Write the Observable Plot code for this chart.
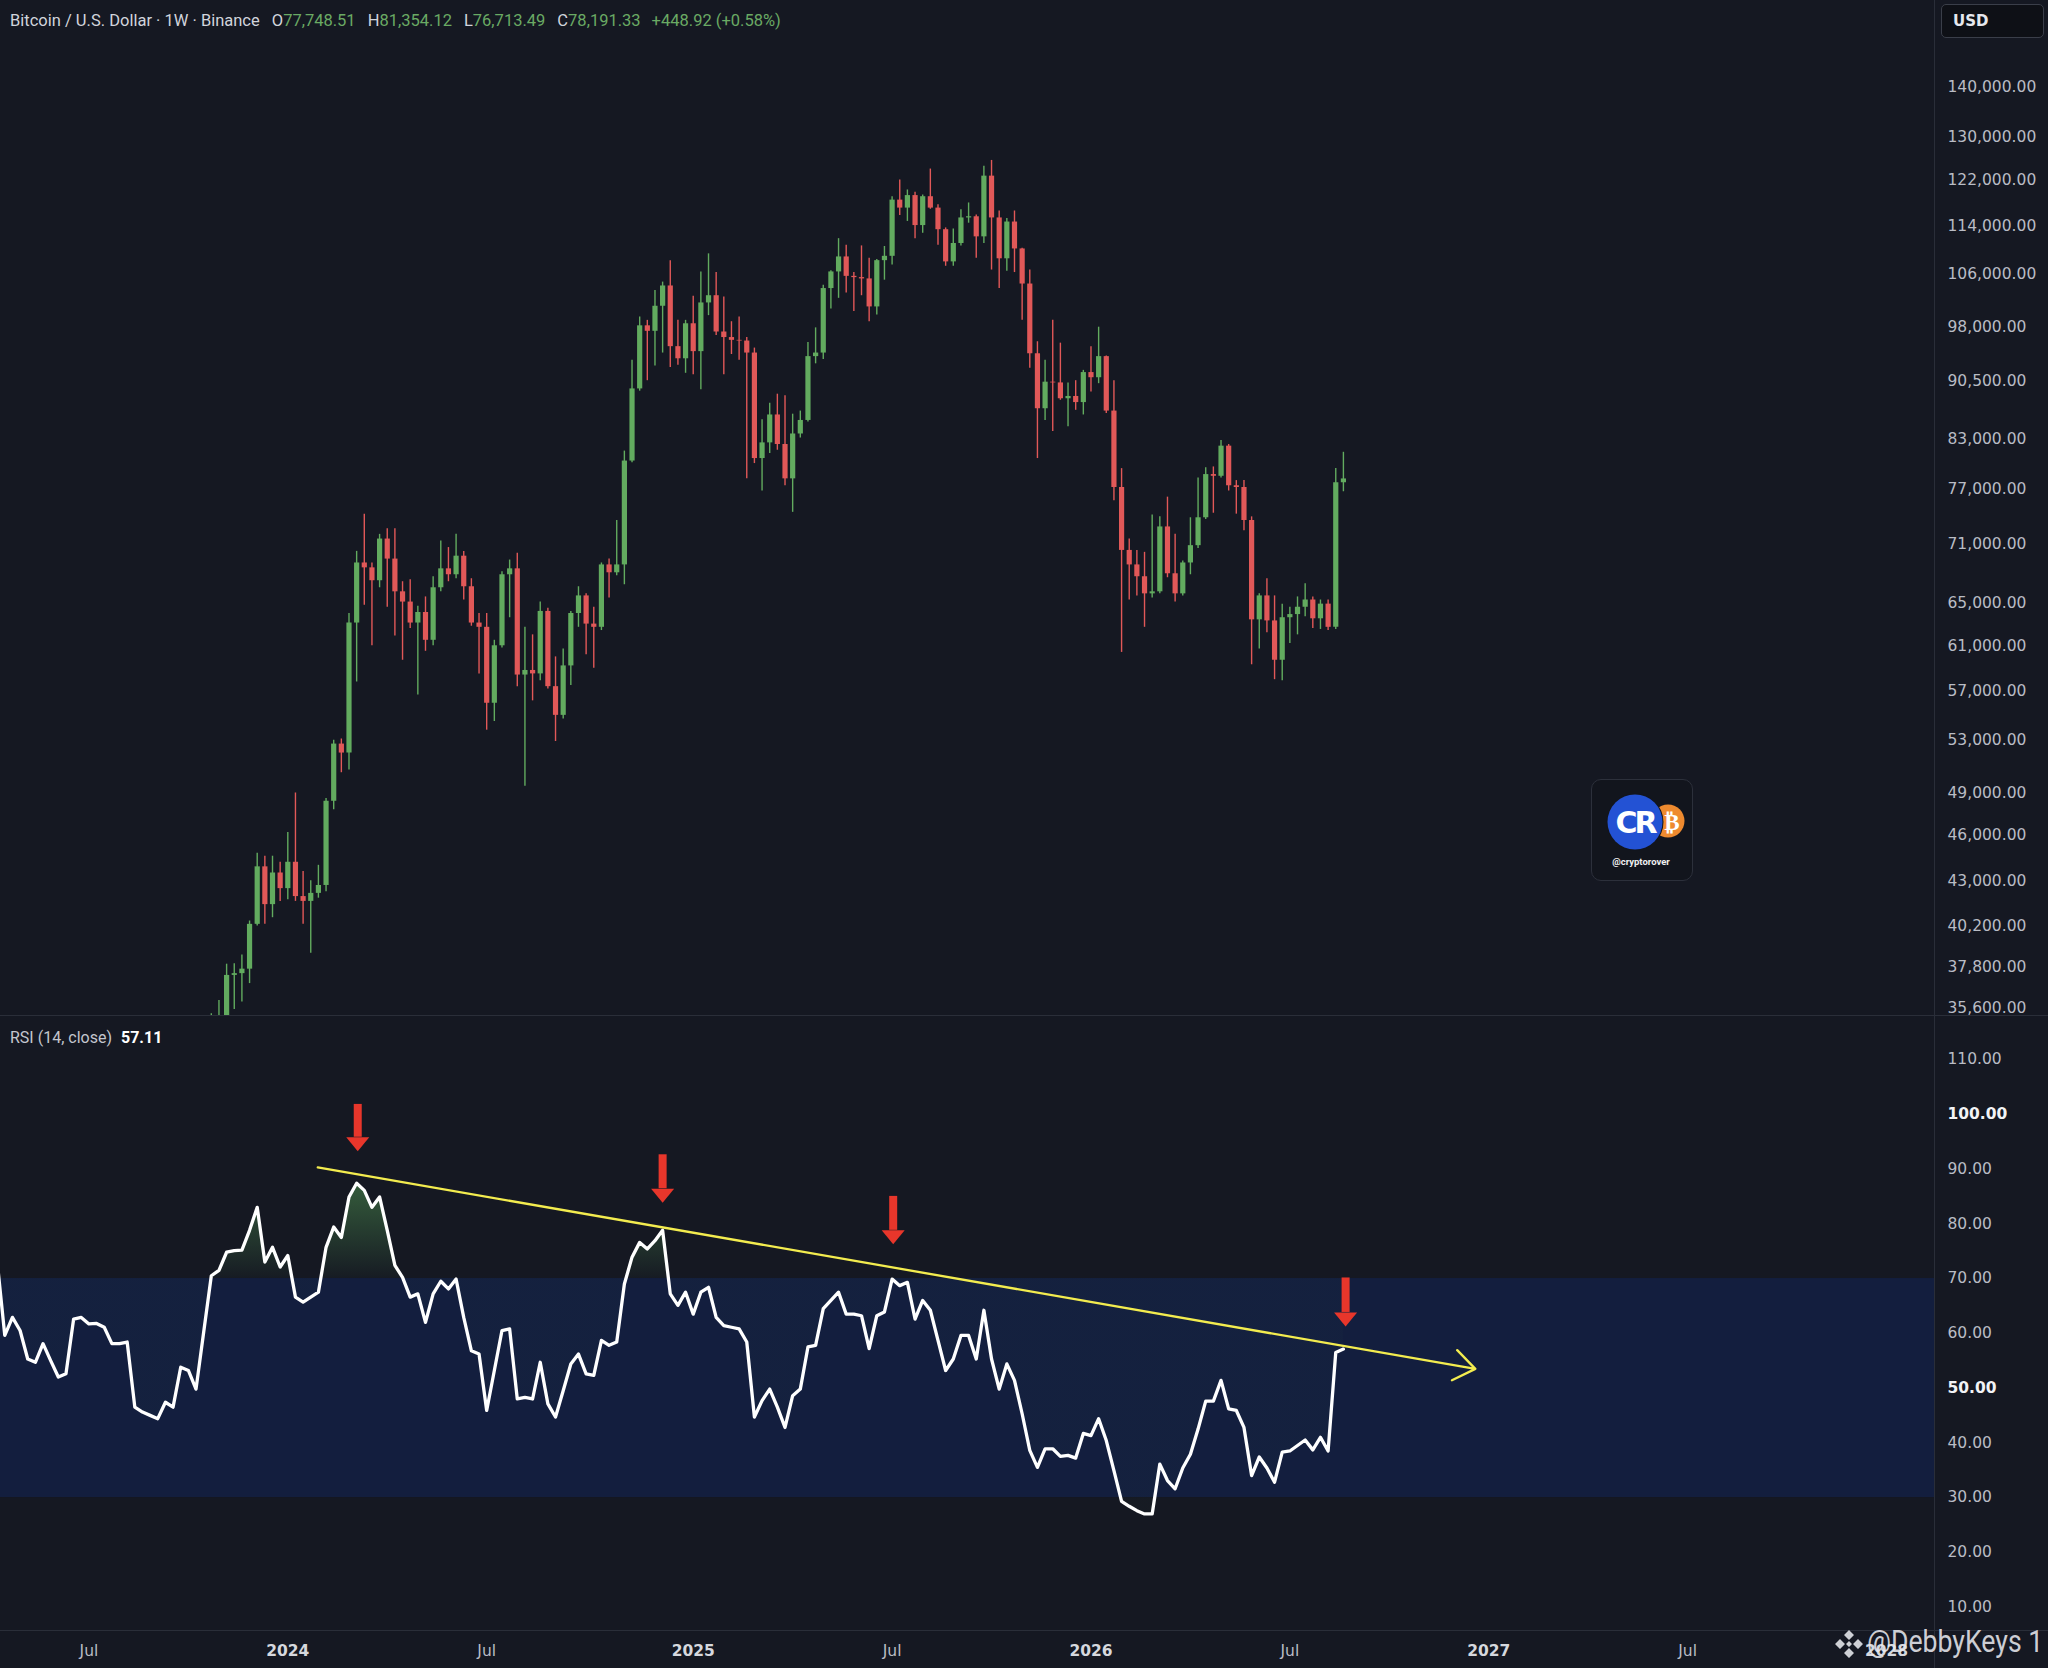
<!DOCTYPE html>
<html><head><meta charset="utf-8">
<script src="https://cdn.jsdelivr.net/npm/d3@7"></script>
<script src="https://cdn.jsdelivr.net/npm/@observablehq/plot@0.6"></script>
<style>
html,body{margin:0;padding:0;background:#151822;}
#wrap{position:relative;width:2048px;height:1668px;overflow:hidden;background:#151822;font-family:Roboto,'Liberation Sans',sans-serif;}
#price,#rsi{position:absolute;left:0;}
#price{top:0;z-index:2}
#rsi{top:1015px;z-index:1}
#price svg{overflow:visible}
.hline{position:absolute;left:0;width:2048px;height:1px;background:#2a2e39}
.vline{position:absolute;top:0;left:1934px;width:1px;height:1668px;background:#2a2e39}
#header{position:absolute;left:10px;top:10px;font-size:16.5px;color:#d1d4dc;white-space:nowrap;line-height:22px;z-index:3}
#header span{margin-left:12px}
#header .g{color:#6aaa64;margin-left:0}
#rsilabel{position:absolute;left:10px;top:1027px;font-size:16px;color:#c3c6ce;white-space:nowrap;line-height:22px;z-index:3}
#rsilabel b{color:#ffffff;margin-left:9px}
#usd{position:absolute;left:1941px;top:4px;width:101px;height:32px;background:#0e1016;border:1px solid #3a3e49;border-radius:5px;color:#e6e8ee;font-family:'DejaVu Sans',sans-serif;font-size:15px;font-weight:bold;line-height:32px;box-sizing:content-box;z-index:3}
#usd span{margin-left:11px}
#logo{position:absolute;left:1591px;top:779px;width:100px;height:100px;border:1px solid #2c303b;border-radius:10px;background:#12151d;z-index:3}
#wm{position:absolute;left:1834px;top:1624px;height:36px;color:rgba(232,233,238,0.88);white-space:nowrap;z-index:4}
#wm svg{position:absolute;left:0;top:5px}
#wm span{position:absolute;left:33px;top:0;font-family:Roboto,sans-serif;font-size:31px;line-height:36px;transform:scaleX(0.86);transform-origin:left center}
</style></head>
<body><div id="wrap">
<div id="price"></div>
<div id="rsi"></div>
<div class="hline" style="top:1015px"></div>
<div class="hline" style="top:1630px"></div>
<div class="vline"></div>
<div id="header">Bitcoin / U.S. Dollar · 1W · Binance<span>O</span><span class="g">77,748.51</span><span>H</span><span class="g">81,354.12</span><span>L</span><span class="g">76,713.49</span><span>C</span><span class="g">78,191.33</span><span class="g" style="margin-left:11px">+448.92 (+0.58%)</span></div>
<div id="rsilabel">RSI (14, close)<b>57.11</b></div>
<div id="usd"><span>USD</span></div>
<div id="logo"><svg width="100" height="100" viewBox="0 0 100 100">
<circle cx="76" cy="41" r="16.5" fill="#ee8a2f"/>
<text x="80" y="50" font-family="DejaVu Sans" font-weight="bold" font-size="23" fill="#ffffff" text-anchor="middle">₿</text>
<circle cx="43" cy="42" r="28.5" fill="#12151d"/>
<circle cx="43" cy="42" r="27.5" fill="#2352d4"/>
<text x="43" y="53" font-family="DejaVu Sans" font-weight="bold" font-size="30" fill="#ffffff" text-anchor="middle" letter-spacing="-3">CR</text>
<text x="49" y="85" font-family="Roboto, sans-serif" font-weight="bold" font-size="9.5" fill="#f0f0f0" text-anchor="middle">@cryptorover</text>
</svg></div>
<div id="wm"><svg width="30" height="30" viewBox="0 0 30 30" fill="rgba(232,233,238,0.88)">
<path d="M15 1 L20 6 L15 11 L10 6 Z M6 10 L11 15 L6 20 L1 15 Z M24 10 L29 15 L24 20 L19 15 Z M15 19 L20 24 L15 29 L10 24 Z M15 12 L18 15 L15 18 L12 15 Z"/>
</svg><span>@DebbyKeys 1</span></div>
</div>
<script>
// ---------- data ----------
const candleStart = "2023-10-23"; // first weekly bar (Monday)
const candleOpen = [30000,34500,35050,37350,37450,37700,40300,43900,41500,43500,
42500,44200,42000,41700,42200,42700,48400,52700,52000,63100,
69000,68500,67200,71500,69400,66100,65100,63100,64100,61500,
66500,68400,67800,69700,66600,63100,62700,56000,61000,67800,
68400,58400,58800,58500,64200,57400,55000,59200,64000,65700,
63000,62700,68800,68000,68800,80300,89400,98200,97400,101100,
104200,95200,93500,98500,94500,101600,102700,97300,96500,96100,
96000,94300,80600,82500,86000,82300,78200,83600,85300,93800,
94300,103800,106400,108800,105700,105500,105300,101000,108200,108900,
118400,117000,119200,114000,119000,117000,113300,108000,111000,115300,
115500,112100,122700,115300,108500,114600,110100,104500,94200,86800,
90300,90200,88100,88400,87600,91600,90900,93800,86500,77200,
70300,68800,67600,65900,66100,72800,67900,65900,69000,70800,
73800,78700,78500,82100,77400,77200,73500,63400,65700,63300,
59700,63600,63900,64600,65300,63500,64900,62700,77748.51];
const candleHigh = [35280,35980,37980,38000,38500,40500,44800,44600,44600,44200,
46200,49000,43600,43000,44000,48600,53000,53100,64000,70200,
74200,69000,72000,72600,72600,67100,67300,64700,65600,67600,
71300,70600,72000,70200,67400,64000,64000,61500,68100,69300,
70000,62700,62000,65100,64500,60000,60700,64200,66600,65900,
64600,69000,69400,73500,81500,93300,99500,99000,103500,104800,
108200,99000,99000,102600,106400,109300,106300,102500,98800,99500,
96500,95000,85400,87500,88700,88500,86100,86500,95800,97900,
104300,106600,111800,110700,106300,110600,108600,108400,110500,119000,
122000,120200,119800,119300,124000,117600,113600,113400,116700,117900,
115800,124500,125600,116500,115200,116500,110200,106700,95900,93300,
99000,95700,90200,90500,91900,95200,98000,93900,90500,79400,
71500,70300,70100,74100,73900,76100,72000,69200,73800,78300,
79500,79600,82800,82300,78000,78000,73900,65900,67400,65700,
64900,64600,65600,66900,65600,65300,65300,79400,81354.12];
const candleLow = [29900,34100,34500,35500,35900,36900,40200,40300,40700,41700,
41800,41700,40300,38600,41900,42300,47800,50500,50700,57800,
64800,61000,66500,64600,61900,59700,62600,56700,60500,61000,
66100,67100,67400,65300,62800,58500,53800,54500,60800,63600,
57400,49500,56200,57900,57200,52900,54700,57500,62700,60200,
59000,62400,65500,67700,66800,80100,89100,90500,92500,94300,
92300,92600,91500,91300,89300,99700,96800,91300,94100,93300,
78200,80000,76800,81200,81600,77400,74400,83100,85100,92800,
93400,100700,102300,103100,100300,102700,98800,99800,105100,107500,
115700,114700,111800,112700,116800,110700,107300,107300,110600,114400,
108600,111000,106700,103800,106500,106300,99000,92200,80600,85300,
83900,87900,84500,86600,86000,89000,90100,86200,75700,60400,
65300,65700,62700,65500,65900,67500,65100,65700,67800,70500,
73600,74300,78300,76800,74200,72400,59300,60700,62200,58000,
57900,61200,62000,63700,62600,62500,62400,62500,76713.49];
const candleClose = [34500,35050,37350,37450,37700,40300,43900,41500,43500,42500,
44200,42000,41700,42200,42700,48400,52700,52000,63100,69000,
68500,67200,71500,69400,66100,65100,63100,64100,61500,66500,
68400,67800,69700,66600,63100,62700,56000,61000,67800,68400,
58400,58800,58500,64200,57400,55000,59200,64000,65700,63000,
62700,68800,68000,68800,80300,89400,98200,97400,101100,104200,
95200,93500,98500,94500,101600,102700,97300,96500,96100,96000,
94300,80600,82500,86000,82300,78200,83600,85300,93800,94300,
103800,106400,108800,105700,105500,105300,101000,108200,108900,118400,
117000,119200,114000,119000,117000,113300,108000,111000,115300,115500,
112100,122700,115300,108500,114600,110100,104500,94200,86800,90300,
90200,88100,88400,87600,91600,90900,93800,86500,77200,70300,
68800,67600,65900,66100,72800,67900,65900,69000,70800,73800,
78700,78500,82100,77400,77200,73500,63400,65700,63300,59700,
63600,63900,64600,65300,63500,64900,62700,77750,78191.33];

const rsiStart = "2023-04-10";
const rsiValues = [73.2,59.6,62.9,60.5,55.3,54.7,58.1,55.0,52.0,52.6,
62.6,62.9,61.7,61.8,61.1,58.1,58.1,58.4,46.5,45.6,
45.0,44.4,47.4,46.5,53.8,53.2,49.8,60.2,70.5,71.5,
74.8,75.1,75.2,78.8,83.0,73.0,75.7,72.1,74.2,66.6,
65.7,66.6,67.5,75.7,79.4,77.5,84.9,87.4,86.1,83.0,
84.9,78.8,72.4,70.2,66.6,67.2,62.0,67.2,69.5,68.1,
69.9,62.9,56.8,56.2,45.9,53.2,60.5,60.8,48.0,48.3,
48.0,54.7,47.1,44.7,49.5,54.4,56.2,52.6,52.3,58.7,
57.8,58.4,69.0,73.9,76.6,75.4,76.9,78.8,67.2,65.1,
67.5,63.5,67.5,68.4,62.9,61.4,61.1,60.8,58.4,44.7,
47.7,49.8,46.5,42.8,48.6,49.8,57.5,57.8,64.5,66.0,
67.5,63.5,63.5,63.2,57.2,63.2,63.9,69.9,68.7,69.3,
62.6,66.0,64.2,58.7,53.2,55.3,59.6,59.6,55.3,64.2,
55.3,49.8,54.4,51.4,45.3,38.6,35.5,38.9,38.9,37.5,
37.7,37.2,41.7,41.3,44.4,40.4,34.9,29.3,28.4,27.6,
27.0,27.0,36.1,33.1,31.6,35.4,37.9,42.5,47.6,47.6,
51.4,46.2,45.9,42.8,34.0,37.4,35.4,32.8,38.3,38.5,
39.5,40.5,38.7,41.0,38.5,56.5,57.11];

const priceTicks = [140000,130000,122000,114000,106000,98000,90500,83000,77000,71000,65000,61000,57000,53000,49000,46000,43000,40200,37800,35600];
const rsiTicksNormal = [110,90,80,70,60,40,30,20,10];
const rsiTicksBold = [100,50];
const xTickDates = ["2023-07-03","2024-01-01","2024-07-01","2025-01-06","2025-07-07","2026-01-05","2026-07-06","2027-01-04","2027-07-05","2028-01-03"];
const xTickLabels = ["Jul","2024","Jul","2025","Jul","2026","Jul","2027","Jul","2028"];

const trendDates = ["2024-01-28T10:00Z","2026-12-22T18:00Z"];
const trendValues = [90.3,53.5];
const arrowDates = ["2024-03-05","2024-12-09","2025-07-08","2026-08-26"];
const arrowTop = [101.8,92.6,85.0,70.1];
const arrowBase = [95.8,86.4,78.8,63.8];

// ---------- scales / styling ----------
const xDomain = [new Date("2023-04-13T02:00Z"), new Date("2028-02-15T22:00Z")];
const priceDomain = [35188, 159350];
const rsiDomain = [5.71, 118.04];
const WEEK = 7 * 24 * 3600 * 1000;
const upColor = "#62ab5f", downColor = "#e15858";
const red = "#e8362b";
const fmt2 = d => d.toLocaleString("en-US", {minimumFractionDigits: 2, maximumFractionDigits: 2});
const baseStyle = {background: "transparent", color: "#b9bcc5", fontFamily: "'DejaVu Sans', sans-serif", fontSize: "15.5px", overflow: "visible"};

const candles = candleOpen.map((o, i) => ({
  date: new Date(Date.parse(candleStart) + i * WEEK),
  open: o, high: candleHigh[i], low: candleLow[i], close: candleClose[i]
}));
const colorOf = d => d.close >= d.open ? upColor : downColor;

const pricePlot = Plot.plot({
  width: 2048, height: 1015,
  marginTop: 0, marginBottom: 0, marginLeft: 0, marginRight: 114,
  style: baseStyle,
  x: {type: "utc", domain: xDomain, axis: null},
  y: {type: "log", domain: priceDomain},
  color: {type: "identity"},
  marks: [
    Plot.ruleX(candles, {x: "date", y1: "low", y2: "high", stroke: colorOf, strokeWidth: 1.4, clip: true}),
    Plot.ruleX(candles, {x: "date", y1: "open", y2: "close", stroke: colorOf, strokeWidth: 5.2, clip: true}),
    Plot.axisY(priceTicks, {anchor: "right", tickSize: 0, tickPadding: 13, tickFormat: fmt2})
  ]
});
document.getElementById("price").appendChild(pricePlot);

const rsi = rsiValues.map((v, i) => ({date: new Date(Date.parse(rsiStart) + i * WEEK), v}));
const band = [{x1: xDomain[0], x2: xDomain[1], y1: 30, y2: 70}];
const trend = [{x1: new Date(trendDates[0]), y1: trendValues[0], x2: new Date(trendDates[1]), y2: trendValues[1]}];
const arrows = arrowDates.map((d, i) => ({date: new Date(d), top: arrowTop[i], base: arrowBase[i]}));
const xTicks = xTickDates.map((d, i) => ({date: new Date(d), label: xTickLabels[i]}));
const yearTicks = xTicks.filter(t => t.label !== "Jul");
const monthTicks = xTicks.filter(t => t.label === "Jul");
const labelOf = new Map(xTicks.map(t => [+t.date, t.label]));

const rsiPlot = Plot.plot({
  width: 2048, height: 653,
  marginTop: 0, marginBottom: 38, marginLeft: 0, marginRight: 114,
  style: baseStyle,
  x: {type: "utc", domain: xDomain},
  y: {domain: rsiDomain},
  marks: [
    Plot.rect(band, {x1: "x1", x2: "x2", y1: "y1", y2: "y2", fill: "#131e3e"}),
    Plot.areaY(rsi, {x: "date", y1: 70, y2: "v", fill: "url(#rsiGrad)", clip: true}),
    Plot.line(rsi, {x: "date", y: "v", stroke: "#ffffff", strokeWidth: 3.3, strokeLinejoin: "round", clip: true}),
    Plot.arrow(trend, {x1: "x1", y1: "y1", x2: "x2", y2: "y2", stroke: "#f3ec4f", strokeWidth: 2.3, headLength: 17, headAngle: 72, bend: 0}),
    Plot.ruleX(arrows, {x: "date", y1: "top", y2: "base", stroke: red, strokeWidth: 8, strokeLinecap: "butt"}),
    Plot.vector(arrows, {x: "date", y: "base", length: 14, rotate: 180, anchor: "start", shape: "spike", r: 11.5, fill: red, stroke: "none"}),
    Plot.axisY(rsiTicksNormal, {anchor: "right", tickSize: 0, tickPadding: 13, tickFormat: fmt2}),
    Plot.axisY(rsiTicksBold, {anchor: "right", tickSize: 0, tickPadding: 13, tickFormat: fmt2, fontWeight: "bold", color: "#f2f3f6"}),
    Plot.axisX(monthTicks.map(t => t.date), {anchor: "bottom", tickSize: 0, tickPadding: 14, tickFormat: d => labelOf.get(+d)}),
    Plot.axisX(yearTicks.map(t => t.date), {anchor: "bottom", tickSize: 0, tickPadding: 14, tickFormat: d => labelOf.get(+d), fontWeight: "bold", color: "#d6d8de"})
  ]
});
const ys = rsiPlot.scale("y");
const ns = "http://www.w3.org/2000/svg";
const defs = document.createElementNS(ns, "defs");
defs.innerHTML = `<linearGradient id="rsiGrad" gradientUnits="userSpaceOnUse" x1="0" x2="0" y1="${ys.apply(90)}" y2="${ys.apply(70)}"><stop offset="0" stop-color="#58a858" stop-opacity="0.55"/><stop offset="1" stop-color="#58a858" stop-opacity="0.02"/></linearGradient>`;
rsiPlot.insertBefore(defs, rsiPlot.firstChild);
document.getElementById("rsi").appendChild(rsiPlot);
</script>
</body></html>
